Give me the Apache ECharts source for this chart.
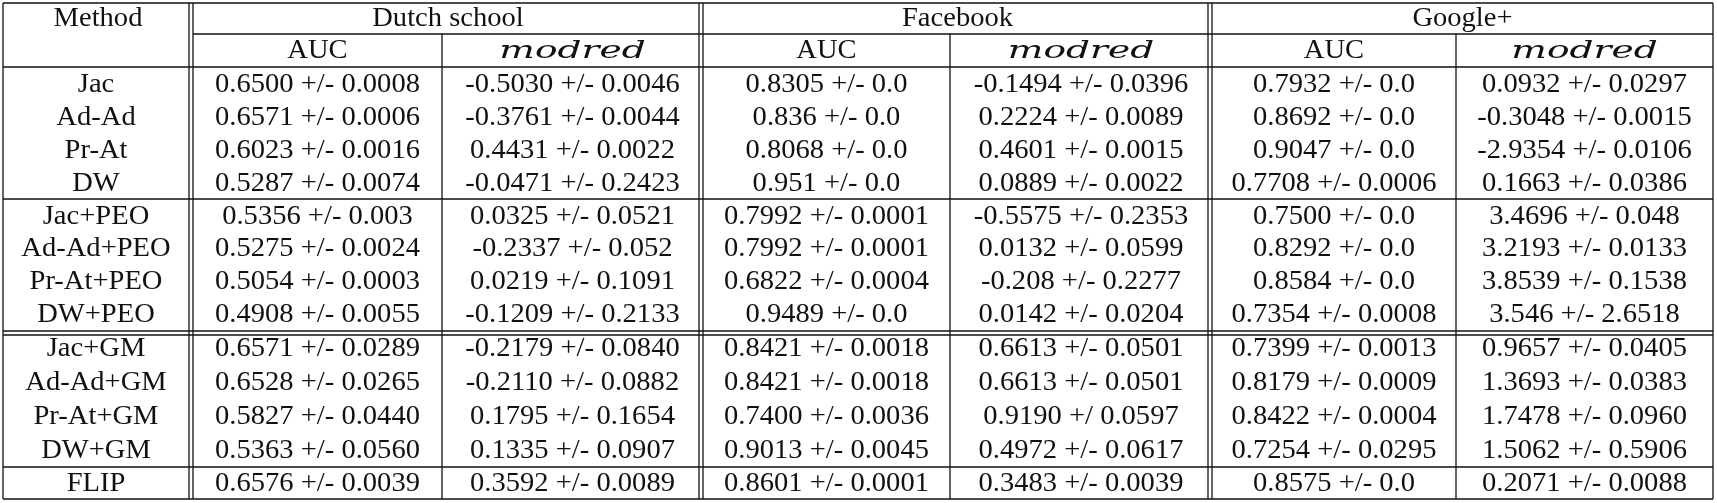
<!DOCTYPE html>
<html><head><meta charset="utf-8">
<script src="https://cdn.jsdelivr.net/npm/echarts@6/dist/echarts.min.js"></script>
<style>html,body{margin:0;background:#fff}#c{width:1717px;height:503px}</style>
</head><body><div id="c"></div>
<script>
const methods = ["Jac", "Ad-Ad", "Pr-At", "DW", "Jac+PEO", "Ad-Ad+PEO", "Pr-At+PEO", "DW+PEO",
  "Jac+GM", "Ad-Ad+GM", "Pr-At+GM", "DW+GM", "FLIP"];
const dutchAUC = ["0.6500 +/- 0.0008", "0.6571 +/- 0.0006", "0.6023 +/- 0.0016", "0.5287 +/- 0.0074",
  "0.5356 +/- 0.003", "0.5275 +/- 0.0024", "0.5054 +/- 0.0003", "0.4908 +/- 0.0055",
  "0.6571 +/- 0.0289", "0.6528 +/- 0.0265", "0.5827 +/- 0.0440", "0.5363 +/- 0.0560", "0.6576 +/- 0.0039"];
const dutchModred = ["-0.5030 +/- 0.0046", "-0.3761 +/- 0.0044", "0.4431 +/- 0.0022", "-0.0471 +/- 0.2423",
  "0.0325 +/- 0.0521", "-0.2337 +/- 0.052", "0.0219 +/- 0.1091", "-0.1209 +/- 0.2133",
  "-0.2179 +/- 0.0840", "-0.2110 +/- 0.0882", "0.1795 +/- 0.1654", "0.1335 +/- 0.0907", "0.3592 +/- 0.0089"];
const fbAUC = ["0.8305 +/- 0.0", "0.836 +/- 0.0", "0.8068 +/- 0.0", "0.951 +/- 0.0",
  "0.7992 +/- 0.0001", "0.7992 +/- 0.0001", "0.6822 +/- 0.0004", "0.9489 +/- 0.0",
  "0.8421 +/- 0.0018", "0.8421 +/- 0.0018", "0.7400 +/- 0.0036", "0.9013 +/- 0.0045", "0.8601 +/- 0.0001"];
const fbModred = ["-0.1494 +/- 0.0396", "0.2224 +/- 0.0089", "0.4601 +/- 0.0015", "0.0889 +/- 0.0022",
  "-0.5575 +/- 0.2353", "0.0132 +/- 0.0599", "-0.208 +/- 0.2277", "0.0142 +/- 0.0204",
  "0.6613 +/- 0.0501", "0.6613 +/- 0.0501", "0.9190 +/ 0.0597", "0.4972 +/- 0.0617", "0.3483 +/- 0.0039"];
const gpAUC = ["0.7932 +/- 0.0", "0.8692 +/- 0.0", "0.9047 +/- 0.0", "0.7708 +/- 0.0006",
  "0.7500 +/- 0.0", "0.8292 +/- 0.0", "0.8584 +/- 0.0", "0.7354 +/- 0.0008",
  "0.7399 +/- 0.0013", "0.8179 +/- 0.0009", "0.8422 +/- 0.0004", "0.7254 +/- 0.0295", "0.8575 +/- 0.0"];
const gpModred = ["0.0932 +/- 0.0297", "-0.3048 +/- 0.0015", "-2.9354 +/- 0.0106", "0.1663 +/- 0.0386",
  "3.4696 +/- 0.048", "3.2193 +/- 0.0133", "3.8539 +/- 0.1538", "3.546 +/- 2.6518",
  "0.9657 +/- 0.0405", "1.3693 +/- 0.0383", "1.7478 +/- 0.0960", "1.5062 +/- 0.5906", "0.2071 +/- 0.0088"];
const groups = ["Dutch school", "Facebook", "Google+"];
const subHeads = ["AUC", "modred"];

// layout (pixels)
const colX = [3, 193, 442, 703, 950, 1212, 1456, 1713];
const rowY = [67, 100, 133, 166, 199, 231.5, 264, 296.5, 331, 365, 399, 433, 467, 499];

const columns = [methods, dutchAUC, dutchModred, fbAUC, fbModred, gpAUC, gpModred];
const cells = [];
columns.forEach((col, c) => col.forEach((t, r) => {
  cells.push([(colX[c] + colX[c + 1]) / 2 - (c === 0 ? 2 : 0), (rowY[r] + rowY[r + 1]) / 2 + 1, t, 0]);
}));
groups.forEach((g, i) => cells.push([(colX[1 + 2 * i] + colX[3 + 2 * i]) / 2, 19, g, 0]));
for (let i = 0; i < 6; i++) cells.push([(colX[1 + i] + colX[2 + i]) / 2, 51, subHeads[i % 2], i % 2]);
cells.push([(colX[0] + colX[1]) / 2, 19, "Method", 0]);

const lines = [];
const h = (y, x1, x2) => lines.push([x1, y, x2, y]);
const v = (x, y1, y2) => lines.push([x, y1, x, y2]);
h(3, 3, 1713); h(34, 193, 1713); h(67, 3, 1713); h(199, 3, 1713);
h(331, 3, 1713); h(335, 3, 1713); h(467, 3, 1713); h(499, 3, 1713);
v(3, 3, 499); v(1713, 3, 499);
[189, 193, 699, 703, 1208, 1212].forEach(x => v(x, 3, 499));
[442, 950, 1456].forEach(x => v(x, 34, 499));

const chart = echarts.init(document.getElementById("c"));
chart.setOption({
  animation: false,
  backgroundColor: "#fff",
  grid: { left: 0, right: 0, top: 0, bottom: 0 },
  xAxis: { type: "value", min: 0, max: 1717, show: false },
  yAxis: { type: "value", min: 0, max: 503, inverse: true, show: false },
  series: [
    {
      type: "custom",
      data: lines,
      renderItem: (params, api) => {
        const a = api.coord([api.value(0), api.value(1)]);
        const b = api.coord([api.value(2), api.value(3)]);
        return { type: "line", shape: { x1: a[0], y1: a[1], x2: b[0], y2: b[1] },
          style: { stroke: "#111", lineWidth: 1.3 } };
      }
    },
    {
      type: "custom",
      data: cells,
      renderItem: (params, api) => {
        const p = api.coord([api.value(0), api.value(1)]);
        const it = cells[params.dataIndex][3] === 1;
        return { type: "text", x: p[0], y: p[1], scaleX: it ? 1.5 : 1.02,
          style: { text: cells[params.dataIndex][2], align: "center", verticalAlign: "middle",
            fill: "#111", font: it ? "italic 25px 'DejaVu Serif'" : "28px 'Liberation Serif'" } };
      }
    }
  ]
});
</script></body></html>
